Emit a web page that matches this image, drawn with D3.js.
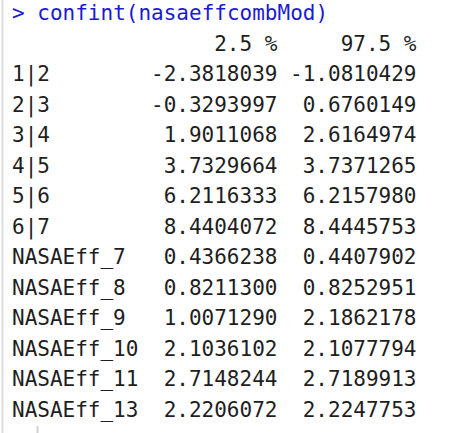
<!DOCTYPE html>
<html>
<head>
<meta charset="utf-8">
<script src="https://cdn.jsdelivr.net/npm/d3@7"></script>
<style>
  body { margin: 0; background: #fff; }
  text { font-family: "DejaVu Sans Mono", monospace; font-size: 21px; white-space: pre; }
</style>
</head>
<body>
<div id="chart"></div>
<script>
// console output: confint(nasaeffcombMod)
const command = "> confint(nasaeffcombMod)";
const colHeaders = ["2.5 %", "97.5 %"];
const rowNames = ["1|2", "2|3", "3|4", "4|5", "5|6", "6|7",
  "NASAEff_7", "NASAEff_8", "NASAEff_9", "NASAEff_10", "NASAEff_11", "NASAEff_13"];
const lower = ["-2.3818039", "-0.3293997", "1.9011068", "3.7329664", "6.2116333", "8.4404072",
  "0.4366238", "0.8211300", "1.0071290", "2.1036102", "2.7148244", "2.2206072"];
const upper = ["-1.0810429", "0.6760149", "2.6164974", "3.7371265", "6.2157980", "8.4445753",
  "0.4407902", "0.8252951", "2.1862178", "2.1077794", "2.7189913", "2.2247753"];

const W = 474, H = 433, charW = 12.64;

const svg = d3.select("#chart").append("svg").attr("width", W).attr("height", H);

// left gutter line of the console
svg.append("line").attr("x1", 2.5).attr("x2", 2.5).attr("y1", 0).attr("y2", H)
  .attr("stroke", "#dcdcdc").attr("stroke-width", 2);
svg.append("line").attr("x1", 37.5).attr("x2", 37.5).attr("y1", 426).attr("y2", H)
  .attr("stroke", "#d0d0d0").attr("stroke-width", 2);

// line index -> baseline y
const y = d3.scaleLinear().domain([0, 13]).range([20, 417]);
// character column -> x
const x = d3.scaleLinear().domain([0, 1]).range([12, 12 + charW]);

const pad = (s, n) => s.padStart(n, " ");
const nameW = d3.max(rowNames, d => d.length);

svg.append("text").attr("x", x(0)).attr("y", y(0)).attr("fill", "#1b1bd0").text(command);

const lines = [" ".repeat(nameW) + " " + pad(colHeaders[0], 10) + " " + pad(colHeaders[1], 10)]
  .concat(rowNames.map((n, i) => n.padEnd(nameW, " ") + " " + pad(lower[i], 10) + " " + pad(upper[i], 10)));

svg.selectAll("text.row").data(lines).join("text")
  .attr("class", "row")
  .attr("x", x(0))
  .attr("y", (d, i) => y(i + 1))
  .attr("fill", "#1e1e1e")
  .attr("textLength", d => d.length * charW)
  .text(d => d);
</script>
</body>
</html>
